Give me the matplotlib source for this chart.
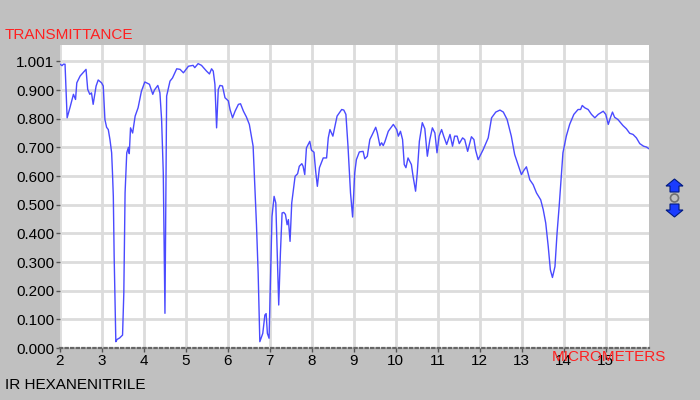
import numpy as np
import matplotlib
matplotlib.use("Agg")
import matplotlib.pyplot as plt
from matplotlib.patches import Polygon, Ellipse

# =========================================================
# DATA
# =========================================================

wavelength = [
    2.00, 2.05, 2.08, 2.12, 2.17, 2.24, 2.32, 2.37, 2.40, 2.48, 2.62, 2.66,
    2.71, 2.75, 2.79, 2.86, 2.91, 2.99, 3.03, 3.07, 3.11, 3.15, 3.19, 3.23,
    3.25, 3.27, 3.29, 3.33, 3.36, 3.42, 3.49, 3.52, 3.55, 3.59, 3.63, 3.65,
    3.68, 3.73, 3.79, 3.86, 3.94, 4.02, 4.13, 4.21, 4.25, 4.33, 4.38, 4.42,
    4.46, 4.50, 4.54, 4.62, 4.68, 4.78, 4.86, 4.94, 5.06, 5.17, 5.21, 5.29,
    5.37, 5.49, 5.56, 5.61, 5.65, 5.69, 5.73, 5.77, 5.81, 5.87, 5.93, 6.01,
    6.05, 6.11, 6.17, 6.25, 6.30, 6.37, 6.44, 6.51, 6.56, 6.60, 6.64, 6.68,
    6.72, 6.76, 6.83, 6.88, 6.91, 6.94, 6.98, 7.01, 7.05, 7.10, 7.14, 7.17,
    7.21, 7.25, 7.29, 7.33, 7.37, 7.41, 7.44, 7.48, 7.52, 7.56, 7.60, 7.66,
    7.70, 7.76, 7.79, 7.83, 7.87, 7.95, 7.99, 8.05, 8.09, 8.13, 8.18, 8.27,
    8.35, 8.39, 8.43, 8.50, 8.55, 8.60, 8.71, 8.76, 8.81, 8.86, 8.92, 8.97,
    9.02, 9.06, 9.13, 9.22, 9.26, 9.32, 9.38, 9.44, 9.52, 9.56, 9.62, 9.66,
    9.70, 9.74, 9.82, 9.94, 10.02, 10.06, 10.11, 10.16, 10.20, 10.24, 10.29,
    10.37, 10.41, 10.47, 10.51, 10.56, 10.63, 10.69, 10.75, 10.81, 10.87,
    10.93, 10.98, 11.03, 11.09, 11.14, 11.21, 11.29, 11.35, 11.40, 11.46,
    11.51, 11.59, 11.64, 11.71, 11.80, 11.86, 11.90, 11.96, 12.08, 12.20,
    12.28, 12.38, 12.48, 12.56, 12.65, 12.75, 12.83, 12.91, 12.99, 13.05,
    13.11, 13.19, 13.27, 13.35, 13.45, 13.51, 13.57, 13.63, 13.68, 13.73,
    13.79, 13.84, 13.89, 13.95, 13.98, 14.06, 14.14, 14.24, 14.34, 14.40,
    14.44, 14.50, 14.58, 14.66, 14.74, 14.82, 14.94, 15.00, 15.06, 15.11,
    15.16, 15.21, 15.29, 15.41, 15.49, 15.57, 15.65, 15.73, 15.81, 15.90,
    15.97, 16.03,
]

transmittance = [
    0.990, 0.985, 0.990, 0.990, 0.803, 0.840, 0.885, 0.867, 0.925, 0.949, 0.972, 0.902,
    0.885, 0.890, 0.850, 0.914, 0.935, 0.925, 0.914, 0.797, 0.770, 0.762, 0.727, 0.681,
    0.611, 0.529, 0.319, 0.022, 0.030, 0.035, 0.045, 0.191, 0.541, 0.681, 0.700, 0.678,
    0.768, 0.750, 0.809, 0.838, 0.896, 0.928, 0.920, 0.885, 0.900, 0.916, 0.890, 0.797,
    0.611, 0.121, 0.879, 0.931, 0.942, 0.974, 0.972, 0.960, 0.983, 0.986, 0.978, 0.992,
    0.986, 0.966, 0.956, 0.974, 0.966, 0.920, 0.768, 0.902, 0.916, 0.914, 0.873, 0.862,
    0.832, 0.803, 0.826, 0.850, 0.852, 0.826, 0.806, 0.780, 0.739, 0.704, 0.570, 0.430,
    0.261, 0.022, 0.051, 0.115, 0.120, 0.051, 0.034, 0.214, 0.459, 0.529, 0.506, 0.354,
    0.150, 0.330, 0.471, 0.473, 0.466, 0.430, 0.448, 0.372, 0.506, 0.552, 0.599, 0.608,
    0.634, 0.643, 0.634, 0.605, 0.698, 0.721, 0.690, 0.683, 0.617, 0.564, 0.629, 0.663,
    0.663, 0.733, 0.762, 0.739, 0.774, 0.809, 0.832, 0.830, 0.815, 0.704, 0.541, 0.457,
    0.611, 0.657, 0.684, 0.686, 0.660, 0.669, 0.727, 0.745, 0.770, 0.750, 0.706, 0.716,
    0.706, 0.720, 0.756, 0.780, 0.762, 0.739, 0.756, 0.727, 0.640, 0.629, 0.663,
    0.640, 0.599, 0.547, 0.611, 0.721, 0.786, 0.765, 0.669, 0.727, 0.768,
    0.750, 0.681, 0.739, 0.762, 0.739, 0.710, 0.745, 0.704, 0.739, 0.739,
    0.713, 0.733, 0.727, 0.686, 0.737, 0.727, 0.690, 0.657, 0.692, 0.733,
    0.803, 0.823, 0.830, 0.823, 0.797, 0.739, 0.675, 0.640, 0.605, 0.620,
    0.632, 0.587, 0.570, 0.541, 0.517, 0.483, 0.436, 0.354, 0.273, 0.246,
    0.284, 0.401, 0.494, 0.622, 0.681, 0.739, 0.780, 0.815, 0.832, 0.832,
    0.846, 0.838, 0.832, 0.815, 0.803, 0.815, 0.826, 0.815, 0.780, 0.803,
    0.823, 0.805, 0.797, 0.776, 0.765, 0.749, 0.745, 0.733, 0.713, 0.704,
    0.701, 0.695,
]

x_ticks = list(range(2, 16))
y_ticks = [0.0, 0.1, 0.2, 0.3, 0.4, 0.5, 0.6, 0.7, 0.8, 0.9, 1.001]
y_tick_labels = ["0.000", "0.100", "0.200", "0.300", "0.400", "0.500",
                 "0.600", "0.700", "0.800", "0.900", "1.001"]

# =========================================================
# PLOT
# =========================================================

plt.rcParams["font.family"] = ["Liberation Sans", "DejaVu Sans"]

BG = "#c0c0c0"
GRID = "#dcdcdc"

fig = plt.figure(figsize=(7, 4), dpi=100, facecolor=BG)
ax = fig.add_axes([60 / 700, 52 / 400, 589 / 700, 303 / 400])
ax.set_facecolor("white")

ax.plot(wavelength, transmittance, color="#4a4aff", lw=1.0)

ax.set_xlim(2, 16.03)
ax.set_ylim(0, 1.057)

ax.set_xticks(x_ticks)
ax.set_yticks(y_ticks)
ax.set_yticklabels(y_tick_labels)

ax.grid(True, color=GRID, lw=2)
ax.set_axisbelow(True)

for side in ["top", "right", "left"]:
    ax.spines[side].set_visible(False)
ax.spines["bottom"].set_color("#666666")
ax.spines["bottom"].set_linestyle((0, (1, 1.5)))
ax.spines["bottom"].set_linewidth(1.6)

ax.tick_params(axis="both", labelsize=11, colors="#555555", labelcolor="black",
               length=3, width=1)
ax.tick_params(axis="x", pad=1)
ax.tick_params(axis="y", pad=1)

# -------------------------
# LABELS
# -------------------------
fig.text(5 / 700, 1 - 35 / 400, "TRANSMITTANCE", color="#ff2020",
         fontsize=11, va="center", ha="left")
fig.text(609 / 700, 1 - 357 / 400, "MICROMETERS", color="#ff2020",
         fontsize=11, va="center", ha="center")
fig.text(5 / 700, 1 - 385 / 400, "IR HEXANENITRILE", color="black",
         fontsize=11, va="center", ha="left")

# -------------------------
# SCROLL ICONS (right side)
# -------------------------
def px(x, y):
    return (x / 700, 1 - y / 400)

up = [px(674.5, 179), px(683, 186), px(679, 186), px(679, 192),
      px(670, 192), px(670, 186), px(666, 186)]
down = [px(670, 204), px(679, 204), px(679, 210), px(683, 210),
        px(674.5, 217), px(666, 210), px(670, 210)]
for shape in (up, down):
    fig.patches.append(Polygon(shape, closed=True, transform=fig.transFigure,
                               facecolor="#1a3cff", edgecolor="#001a80", lw=0.8))
fig.patches.append(Ellipse(px(674.5, 198), 8 / 700, 8 / 400,
                           transform=fig.transFigure,
                           facecolor="none", edgecolor="#707070", lw=1.2))

plt.savefig("out.png", dpi=100, facecolor=BG)
